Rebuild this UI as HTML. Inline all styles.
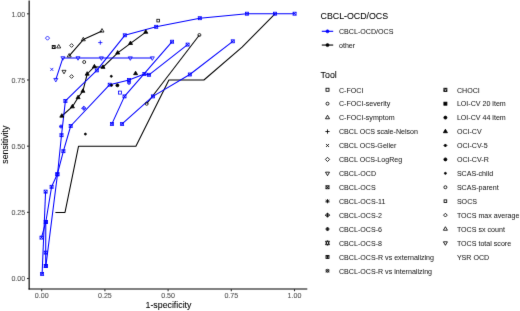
<!DOCTYPE html>
<html><head><meta charset="utf-8"><style>
html,body{margin:0;padding:0;background:#fff;width:520px;height:311px;overflow:hidden}
svg{display:block}
text{font-family:"Liberation Sans",Arial,sans-serif}
.tk{font-size:7.1px;fill:#4d4d4d;stroke:#4d4d4d;stroke-width:0.06px}
.ti{font-size:8.8px;fill:#000;stroke:#000;stroke-width:0.07px}
.lg{font-size:7.1px;fill:#1a1a1a;stroke:#1a1a1a;stroke-width:0.04px}
</style></head><body>
<svg width="520" height="311" viewBox="0 0 520 311">
<defs><filter id="bl" x="-2%" y="-2%" width="104%" height="104%" filterUnits="objectBoundingBox" color-interpolation-filters="sRGB"><feConvolveMatrix order="3" kernelMatrix="0.0052 0.0619 0.0052 0.0619 0.7314 0.0619 0.0052 0.0619 0.0052" edgeMode="none" preserveAlpha="false"/></filter></defs>
<rect width="520" height="311" fill="#fff"/>
<g filter="url(#bl)">
<polyline points="55.4,212.4 65,212.4 78.5,146.3 135.9,146.3 168.9,79.9 203.9,80 242.1,47.2 275,13.9" fill="none" stroke="#000000" stroke-width="1.05" stroke-linejoin="round" stroke-linecap="butt"/>
<polyline points="146.7,103.8 199.4,35" fill="none" stroke="#000000" stroke-width="1.05" stroke-linejoin="round" stroke-linecap="butt"/>
<polyline points="69.2,55.8 83.3,39.6 102,30.9" fill="none" stroke="#000000" stroke-width="1.05" stroke-linejoin="round" stroke-linecap="butt"/>
<polyline points="61.8,116 72.4,106.7 78.1,97.5 82.9,91.1 87.2,74 94.4,66.7 103,67.2 117.7,52.9 130.5,43.3 145.8,32.1" fill="none" stroke="#000000" stroke-width="1.05" stroke-linejoin="round" stroke-linecap="butt"/>
<polyline points="45.9,265.9 57.5,174.3 61.5,135.2 65.4,100.9 96.8,70.4 124.8,35.3 156.2,26.8 199.8,18.2 246.9,13.7 275,13.7 294.6,13.7" fill="none" stroke="#0000FF" stroke-width="1.05" stroke-linejoin="round" stroke-linecap="butt"/>
<polyline points="41.5,237.6 45.8,222 51.6,186.8 57.3,174.3 63.4,151.2 70.7,126 109.7,84.7 129,79.9 144.4,74 149,74.8 187.6,44.6" fill="none" stroke="#0000FF" stroke-width="1.05" stroke-linejoin="round" stroke-linecap="butt"/>
<polyline points="111.9,123.9 124.5,96.4 172.1,41.7" fill="none" stroke="#0000FF" stroke-width="1.05" stroke-linejoin="round" stroke-linecap="butt"/>
<polyline points="122.1,123.9 152.9,96.4 189.8,74.5 232.8,41.3" fill="none" stroke="#0000FF" stroke-width="1.05" stroke-linejoin="round" stroke-linecap="butt"/>
<polyline points="55.8,79.6 62.9,57.9 78,57.9 101.4,58 130.3,58 152.3,58" fill="none" stroke="#0000FF" stroke-width="1.05" stroke-linejoin="round" stroke-linecap="butt"/>
<polyline points="45.7,265.9 45.7,252.6 45.8,222" fill="none" stroke="#0000FF" stroke-width="1.05" stroke-linejoin="round" stroke-linecap="butt"/>
<polyline points="42.1,273.9 45.6,191.6" fill="none" stroke="#0000FF" stroke-width="1.05" stroke-linejoin="round" stroke-linecap="butt"/>
<circle cx="146.7" cy="103.8" r="1.5" stroke="#000000" stroke-width="0.8" fill="none"/>
<circle cx="199.4" cy="35" r="1.5" stroke="#000000" stroke-width="0.8" fill="none"/>
<polygon points="69.2,53.47 71.22,56.97 67.18,56.97" stroke="#000000" stroke-width="0.8" fill="none"/>
<polygon points="83.3,37.27 85.32,40.77 81.28,40.77" stroke="#000000" stroke-width="0.8" fill="none"/>
<polygon points="102,28.57 104.02,32.07 99.98,32.07" stroke="#000000" stroke-width="0.8" fill="none"/>
<polygon points="61.8,113.67 63.82,117.17 59.78,117.17" fill="#000000" stroke="#000000" stroke-width="0.8"/>
<polygon points="72.4,104.37 74.42,107.87 70.38,107.87" fill="#000000" stroke="#000000" stroke-width="0.8"/>
<polygon points="78.1,95.17 80.12,98.67 76.08,98.67" fill="#000000" stroke="#000000" stroke-width="0.8"/>
<polygon points="82.9,88.77 84.92,92.27 80.88,92.27" fill="#000000" stroke="#000000" stroke-width="0.8"/>
<polygon points="87.2,71.67 89.22,75.17 85.18,75.17" fill="#000000" stroke="#000000" stroke-width="0.8"/>
<polygon points="94.4,64.37 96.42,67.87 92.38,67.87" fill="#000000" stroke="#000000" stroke-width="0.8"/>
<polygon points="103,64.87 105.02,68.37 100.98,68.37" fill="#000000" stroke="#000000" stroke-width="0.8"/>
<polygon points="117.7,50.57 119.72,54.07 115.68,54.07" fill="#000000" stroke="#000000" stroke-width="0.8"/>
<polygon points="130.5,40.97 132.52,44.47 128.48,44.47" fill="#000000" stroke="#000000" stroke-width="0.8"/>
<polygon points="145.8,29.77 147.82,33.27 143.78,33.27" fill="#000000" stroke="#000000" stroke-width="0.8"/>
<rect x="44.4" y="264.4" width="3" height="3" stroke="#0000FF" stroke-width="0.8" fill="none"/><line x1="44.4" y1="264.4" x2="47.4" y2="267.4" stroke="#0000FF" stroke-width="0.8" fill="none"/><line x1="44.4" y1="267.4" x2="47.4" y2="264.4" stroke="#0000FF" stroke-width="0.8" fill="none"/>
<rect x="56" y="172.8" width="3" height="3" stroke="#0000FF" stroke-width="0.8" fill="none"/><line x1="56" y1="172.8" x2="59" y2="175.8" stroke="#0000FF" stroke-width="0.8" fill="none"/><line x1="56" y1="175.8" x2="59" y2="172.8" stroke="#0000FF" stroke-width="0.8" fill="none"/>
<rect x="60" y="133.7" width="3" height="3" stroke="#0000FF" stroke-width="0.8" fill="none"/><line x1="60" y1="133.7" x2="63" y2="136.7" stroke="#0000FF" stroke-width="0.8" fill="none"/><line x1="60" y1="136.7" x2="63" y2="133.7" stroke="#0000FF" stroke-width="0.8" fill="none"/>
<rect x="63.9" y="99.4" width="3" height="3" stroke="#0000FF" stroke-width="0.8" fill="none"/><line x1="63.9" y1="99.4" x2="66.9" y2="102.4" stroke="#0000FF" stroke-width="0.8" fill="none"/><line x1="63.9" y1="102.4" x2="66.9" y2="99.4" stroke="#0000FF" stroke-width="0.8" fill="none"/>
<rect x="95.3" y="68.9" width="3" height="3" stroke="#0000FF" stroke-width="0.8" fill="none"/><line x1="95.3" y1="68.9" x2="98.3" y2="71.9" stroke="#0000FF" stroke-width="0.8" fill="none"/><line x1="95.3" y1="71.9" x2="98.3" y2="68.9" stroke="#0000FF" stroke-width="0.8" fill="none"/>
<rect x="123.3" y="33.8" width="3" height="3" stroke="#0000FF" stroke-width="0.8" fill="none"/><line x1="123.3" y1="33.8" x2="126.3" y2="36.8" stroke="#0000FF" stroke-width="0.8" fill="none"/><line x1="123.3" y1="36.8" x2="126.3" y2="33.8" stroke="#0000FF" stroke-width="0.8" fill="none"/>
<rect x="154.7" y="25.3" width="3" height="3" stroke="#0000FF" stroke-width="0.8" fill="none"/><line x1="154.7" y1="25.3" x2="157.7" y2="28.3" stroke="#0000FF" stroke-width="0.8" fill="none"/><line x1="154.7" y1="28.3" x2="157.7" y2="25.3" stroke="#0000FF" stroke-width="0.8" fill="none"/>
<rect x="198.3" y="16.7" width="3" height="3" stroke="#0000FF" stroke-width="0.8" fill="none"/><line x1="198.3" y1="16.7" x2="201.3" y2="19.7" stroke="#0000FF" stroke-width="0.8" fill="none"/><line x1="198.3" y1="19.7" x2="201.3" y2="16.7" stroke="#0000FF" stroke-width="0.8" fill="none"/>
<rect x="245.4" y="12.2" width="3" height="3" stroke="#0000FF" stroke-width="0.8" fill="none"/><line x1="245.4" y1="12.2" x2="248.4" y2="15.2" stroke="#0000FF" stroke-width="0.8" fill="none"/><line x1="245.4" y1="15.2" x2="248.4" y2="12.2" stroke="#0000FF" stroke-width="0.8" fill="none"/>
<rect x="273.5" y="12.2" width="3" height="3" stroke="#0000FF" stroke-width="0.8" fill="none"/><line x1="273.5" y1="12.2" x2="276.5" y2="15.2" stroke="#0000FF" stroke-width="0.8" fill="none"/><line x1="273.5" y1="15.2" x2="276.5" y2="12.2" stroke="#0000FF" stroke-width="0.8" fill="none"/>
<rect x="293.1" y="12.2" width="3" height="3" stroke="#0000FF" stroke-width="0.8" fill="none"/><line x1="293.1" y1="12.2" x2="296.1" y2="15.2" stroke="#0000FF" stroke-width="0.8" fill="none"/><line x1="293.1" y1="15.2" x2="296.1" y2="12.2" stroke="#0000FF" stroke-width="0.8" fill="none"/>
<rect x="40" y="236.1" width="3" height="3" stroke="#0000FF" stroke-width="0.8" fill="none"/><line x1="40" y1="236.1" x2="43" y2="239.1" stroke="#0000FF" stroke-width="0.8" fill="none"/><line x1="40" y1="239.1" x2="43" y2="236.1" stroke="#0000FF" stroke-width="0.8" fill="none"/>
<rect x="44.3" y="220.5" width="3" height="3" stroke="#0000FF" stroke-width="0.8" fill="none"/><line x1="44.3" y1="220.5" x2="47.3" y2="223.5" stroke="#0000FF" stroke-width="0.8" fill="none"/><line x1="44.3" y1="223.5" x2="47.3" y2="220.5" stroke="#0000FF" stroke-width="0.8" fill="none"/>
<rect x="50.1" y="185.3" width="3" height="3" stroke="#0000FF" stroke-width="0.8" fill="none"/><line x1="50.1" y1="185.3" x2="53.1" y2="188.3" stroke="#0000FF" stroke-width="0.8" fill="none"/><line x1="50.1" y1="188.3" x2="53.1" y2="185.3" stroke="#0000FF" stroke-width="0.8" fill="none"/>
<rect x="55.8" y="172.8" width="3" height="3" stroke="#0000FF" stroke-width="0.8" fill="none"/><line x1="55.8" y1="172.8" x2="58.8" y2="175.8" stroke="#0000FF" stroke-width="0.8" fill="none"/><line x1="55.8" y1="175.8" x2="58.8" y2="172.8" stroke="#0000FF" stroke-width="0.8" fill="none"/>
<rect x="61.9" y="149.7" width="3" height="3" stroke="#0000FF" stroke-width="0.8" fill="none"/><line x1="61.9" y1="149.7" x2="64.9" y2="152.7" stroke="#0000FF" stroke-width="0.8" fill="none"/><line x1="61.9" y1="152.7" x2="64.9" y2="149.7" stroke="#0000FF" stroke-width="0.8" fill="none"/>
<rect x="69.2" y="124.5" width="3" height="3" stroke="#0000FF" stroke-width="0.8" fill="none"/><line x1="69.2" y1="124.5" x2="72.2" y2="127.5" stroke="#0000FF" stroke-width="0.8" fill="none"/><line x1="69.2" y1="127.5" x2="72.2" y2="124.5" stroke="#0000FF" stroke-width="0.8" fill="none"/>
<rect x="108.2" y="83.2" width="3" height="3" stroke="#0000FF" stroke-width="0.8" fill="none"/><line x1="108.2" y1="83.2" x2="111.2" y2="86.2" stroke="#0000FF" stroke-width="0.8" fill="none"/><line x1="108.2" y1="86.2" x2="111.2" y2="83.2" stroke="#0000FF" stroke-width="0.8" fill="none"/>
<rect x="127.5" y="78.4" width="3" height="3" stroke="#0000FF" stroke-width="0.8" fill="none"/><line x1="127.5" y1="78.4" x2="130.5" y2="81.4" stroke="#0000FF" stroke-width="0.8" fill="none"/><line x1="127.5" y1="81.4" x2="130.5" y2="78.4" stroke="#0000FF" stroke-width="0.8" fill="none"/>
<rect x="142.9" y="72.5" width="3" height="3" stroke="#0000FF" stroke-width="0.8" fill="none"/><line x1="142.9" y1="72.5" x2="145.9" y2="75.5" stroke="#0000FF" stroke-width="0.8" fill="none"/><line x1="142.9" y1="75.5" x2="145.9" y2="72.5" stroke="#0000FF" stroke-width="0.8" fill="none"/>
<rect x="147.5" y="73.3" width="3" height="3" stroke="#0000FF" stroke-width="0.8" fill="none"/><line x1="147.5" y1="73.3" x2="150.5" y2="76.3" stroke="#0000FF" stroke-width="0.8" fill="none"/><line x1="147.5" y1="76.3" x2="150.5" y2="73.3" stroke="#0000FF" stroke-width="0.8" fill="none"/>
<rect x="186.1" y="43.1" width="3" height="3" stroke="#0000FF" stroke-width="0.8" fill="none"/><line x1="186.1" y1="43.1" x2="189.1" y2="46.1" stroke="#0000FF" stroke-width="0.8" fill="none"/><line x1="186.1" y1="46.1" x2="189.1" y2="43.1" stroke="#0000FF" stroke-width="0.8" fill="none"/>
<rect x="110.4" y="122.4" width="3" height="3" stroke="#0000FF" stroke-width="0.8" fill="none"/><line x1="110.4" y1="122.4" x2="113.4" y2="125.4" stroke="#0000FF" stroke-width="0.8" fill="none"/><line x1="110.4" y1="125.4" x2="113.4" y2="122.4" stroke="#0000FF" stroke-width="0.8" fill="none"/>
<rect x="123" y="94.9" width="3" height="3" stroke="#0000FF" stroke-width="0.8" fill="none"/><line x1="123" y1="94.9" x2="126" y2="97.9" stroke="#0000FF" stroke-width="0.8" fill="none"/><line x1="123" y1="97.9" x2="126" y2="94.9" stroke="#0000FF" stroke-width="0.8" fill="none"/>
<rect x="170.6" y="40.2" width="3" height="3" stroke="#0000FF" stroke-width="0.8" fill="none"/><line x1="170.6" y1="40.2" x2="173.6" y2="43.2" stroke="#0000FF" stroke-width="0.8" fill="none"/><line x1="170.6" y1="43.2" x2="173.6" y2="40.2" stroke="#0000FF" stroke-width="0.8" fill="none"/>
<rect x="120.6" y="122.4" width="3" height="3" stroke="#0000FF" stroke-width="0.8" fill="none"/><line x1="120.6" y1="122.4" x2="123.6" y2="125.4" stroke="#0000FF" stroke-width="0.8" fill="none"/><line x1="120.6" y1="125.4" x2="123.6" y2="122.4" stroke="#0000FF" stroke-width="0.8" fill="none"/>
<rect x="151.4" y="94.9" width="3" height="3" stroke="#0000FF" stroke-width="0.8" fill="none"/><line x1="151.4" y1="94.9" x2="154.4" y2="97.9" stroke="#0000FF" stroke-width="0.8" fill="none"/><line x1="151.4" y1="97.9" x2="154.4" y2="94.9" stroke="#0000FF" stroke-width="0.8" fill="none"/>
<rect x="188.3" y="73" width="3" height="3" stroke="#0000FF" stroke-width="0.8" fill="none"/><line x1="188.3" y1="73" x2="191.3" y2="76" stroke="#0000FF" stroke-width="0.8" fill="none"/><line x1="188.3" y1="76" x2="191.3" y2="73" stroke="#0000FF" stroke-width="0.8" fill="none"/>
<rect x="231.3" y="39.8" width="3" height="3" stroke="#0000FF" stroke-width="0.8" fill="none"/><line x1="231.3" y1="39.8" x2="234.3" y2="42.8" stroke="#0000FF" stroke-width="0.8" fill="none"/><line x1="231.3" y1="42.8" x2="234.3" y2="39.8" stroke="#0000FF" stroke-width="0.8" fill="none"/>
<polygon points="55.8,81.93 57.82,78.43 53.78,78.43" stroke="#0000FF" stroke-width="0.8" fill="none"/>
<polygon points="62.9,60.23 64.92,56.73 60.88,56.73" stroke="#0000FF" stroke-width="0.8" fill="none"/>
<polygon points="78,60.23 80.02,56.73 75.98,56.73" stroke="#0000FF" stroke-width="0.8" fill="none"/>
<polygon points="101.4,60.33 103.42,56.83 99.38,56.83" stroke="#0000FF" stroke-width="0.8" fill="none"/>
<polygon points="130.3,60.33 132.32,56.83 128.28,56.83" stroke="#0000FF" stroke-width="0.8" fill="none"/>
<polygon points="152.3,60.33 154.32,56.83 150.28,56.83" stroke="#0000FF" stroke-width="0.8" fill="none"/>
<rect x="44.2" y="264.4" width="3" height="3" stroke="#0000FF" stroke-width="0.8" fill="none"/><line x1="44.2" y1="264.4" x2="47.2" y2="267.4" stroke="#0000FF" stroke-width="0.8" fill="none"/><line x1="44.2" y1="267.4" x2="47.2" y2="264.4" stroke="#0000FF" stroke-width="0.8" fill="none"/>
<rect x="44.2" y="251.1" width="3" height="3" stroke="#0000FF" stroke-width="0.8" fill="none"/><line x1="44.2" y1="251.1" x2="47.2" y2="254.1" stroke="#0000FF" stroke-width="0.8" fill="none"/><line x1="44.2" y1="254.1" x2="47.2" y2="251.1" stroke="#0000FF" stroke-width="0.8" fill="none"/>
<rect x="44.3" y="220.5" width="3" height="3" stroke="#0000FF" stroke-width="0.8" fill="none"/><line x1="44.3" y1="220.5" x2="47.3" y2="223.5" stroke="#0000FF" stroke-width="0.8" fill="none"/><line x1="44.3" y1="223.5" x2="47.3" y2="220.5" stroke="#0000FF" stroke-width="0.8" fill="none"/>
<rect x="40.6" y="272.4" width="3" height="3" stroke="#0000FF" stroke-width="0.8" fill="none"/><line x1="40.6" y1="272.4" x2="43.6" y2="275.4" stroke="#0000FF" stroke-width="0.8" fill="none"/><line x1="40.6" y1="275.4" x2="43.6" y2="272.4" stroke="#0000FF" stroke-width="0.8" fill="none"/>
<rect x="44.1" y="190.1" width="3" height="3" stroke="#0000FF" stroke-width="0.8" fill="none"/><line x1="44.1" y1="190.1" x2="47.1" y2="193.1" stroke="#0000FF" stroke-width="0.8" fill="none"/><line x1="44.1" y1="193.1" x2="47.1" y2="190.1" stroke="#0000FF" stroke-width="0.8" fill="none"/>
<polygon points="53.7,45.5 55.2,48.5 52.2,48.5" stroke="#000000" stroke-width="0.8" fill="none"/><rect x="52.2" y="45.5" width="3" height="3" stroke="#000000" stroke-width="0.8" fill="none"/>
<polygon points="58.7,44.47 60.72,47.97 56.68,47.97" stroke="#000000" stroke-width="0.8" fill="none"/>
<polygon points="69.72,45.5 71.6,47.38 73.48,45.5 71.6,43.62" stroke="#000000" stroke-width="0.8" fill="none"/>
<circle cx="84.2" cy="62" r="1.5" stroke="#000000" stroke-width="0.8" fill="none"/>
<polygon points="64,73.83 66.02,70.33 61.98,70.33" stroke="#000000" stroke-width="0.8" fill="none"/>
<polygon points="69.72,76.5 71.6,78.38 73.48,76.5 71.6,74.62" stroke="#000000" stroke-width="0.8" fill="none"/>
<circle cx="111.3" cy="76.3" r="1" fill="#000000" stroke="#000000" stroke-width="0.8"/>
<circle cx="117.4" cy="85.3" r="1.5" fill="#000000" stroke="#000000" stroke-width="0.8"/>
<polygon points="135.6,71.17 137.62,74.67 133.58,74.67" fill="#000000" stroke="#000000" stroke-width="0.8"/>
<circle cx="85.4" cy="134.1" r="1" fill="#000000" stroke="#000000" stroke-width="0.8"/>
<rect x="156.87" y="19.27" width="2.66" height="2.66" stroke="#000000" stroke-width="0.8" fill="none"/>
<polygon points="45.38,38.1 47.5,40.22 49.62,38.1 47.5,35.98" stroke="#0000FF" stroke-width="0.8" fill="none"/>
<line x1="81.68" y1="108.2" x2="85.92" y2="108.2" stroke="#0000FF" stroke-width="0.8" fill="none"/><line x1="83.8" y1="106.08" x2="83.8" y2="110.32" stroke="#0000FF" stroke-width="0.8" fill="none"/><polygon points="81.68,108.2 83.8,110.32 85.92,108.2 83.8,106.08" stroke="#0000FF" stroke-width="0.8" fill="none"/>
<circle cx="61" cy="126.5" r="1.5" stroke="#0000FF" stroke-width="0.8" fill="none"/><line x1="59.5" y1="126.5" x2="62.5" y2="126.5" stroke="#0000FF" stroke-width="0.8" fill="none"/><line x1="61" y1="125" x2="61" y2="128" stroke="#0000FF" stroke-width="0.8" fill="none"/>
<circle cx="111.6" cy="85.3" r="1" fill="#000000" stroke="#000000" stroke-width="0.8"/>
<line x1="50.3" y1="67.9" x2="53.3" y2="70.9" stroke="#0000FF" stroke-width="0.8" fill="none"/><line x1="50.3" y1="70.9" x2="53.3" y2="67.9" stroke="#0000FF" stroke-width="0.8" fill="none"/>
<line x1="98.18" y1="42.6" x2="102.42" y2="42.6" stroke="#0000FF" stroke-width="0.8" fill="none"/><line x1="100.3" y1="40.48" x2="100.3" y2="44.72" stroke="#0000FF" stroke-width="0.8" fill="none"/>
<rect x="118.4" y="91.1" width="3" height="3" stroke="#0000FF" stroke-width="0.8" fill="none"/>
<circle cx="129" cy="82.8" r="1.5" stroke="#0000FF" stroke-width="0.8" fill="none"/><line x1="127.5" y1="82.8" x2="130.5" y2="82.8" stroke="#0000FF" stroke-width="0.8" fill="none"/><line x1="129" y1="81.3" x2="129" y2="84.3" stroke="#0000FF" stroke-width="0.8" fill="none"/>
<line x1="29.15" y1="0.6" x2="29.15" y2="289.58" stroke="#000" stroke-width="1.15"/>
<line x1="28.57" y1="289.0" x2="307.3" y2="289.0" stroke="#000" stroke-width="1.15"/>
<text x="41.7" y="298.1" text-anchor="middle" class="tk">0.00</text>
<text x="25.2" y="281.4" text-anchor="end" class="tk">0.00</text>
<text x="104.9" y="298.1" text-anchor="middle" class="tk">0.25</text>
<text x="25.2" y="215.22" text-anchor="end" class="tk">0.25</text>
<text x="168.1" y="298.1" text-anchor="middle" class="tk">0.50</text>
<text x="25.2" y="149.05" text-anchor="end" class="tk">0.50</text>
<text x="231.3" y="298.1" text-anchor="middle" class="tk">0.75</text>
<text x="25.2" y="82.88" text-anchor="end" class="tk">0.75</text>
<text x="294.5" y="298.1" text-anchor="middle" class="tk">1.00</text>
<text x="25.2" y="16.7" text-anchor="end" class="tk">1.00</text>
<line x1="41.7" y1="289.0" x2="41.7" y2="291.2" stroke="#333" stroke-width="1.1"/>
<line x1="29.15" y1="278.5" x2="26.95" y2="278.5" stroke="#333" stroke-width="1.1"/>
<line x1="104.9" y1="289.0" x2="104.9" y2="291.2" stroke="#333" stroke-width="1.1"/>
<line x1="29.15" y1="212.32" x2="26.95" y2="212.32" stroke="#333" stroke-width="1.1"/>
<line x1="168.1" y1="289.0" x2="168.1" y2="291.2" stroke="#333" stroke-width="1.1"/>
<line x1="29.15" y1="146.15" x2="26.95" y2="146.15" stroke="#333" stroke-width="1.1"/>
<line x1="231.3" y1="289.0" x2="231.3" y2="291.2" stroke="#333" stroke-width="1.1"/>
<line x1="29.15" y1="79.98" x2="26.95" y2="79.98" stroke="#333" stroke-width="1.1"/>
<line x1="294.5" y1="289.0" x2="294.5" y2="291.2" stroke="#333" stroke-width="1.1"/>
<line x1="29.15" y1="13.8" x2="26.95" y2="13.8" stroke="#333" stroke-width="1.1"/>
<text x="168.5" y="308.1" text-anchor="middle" class="ti">1-specificity</text>
<text transform="translate(8.3,144.7) rotate(-90)" text-anchor="middle" class="ti">sensitivity</text>
<text x="320.6" y="19.3" class="ti">CBCL-OCD/OCS</text>
<line x1="321.8" y1="31.3" x2="333.2" y2="31.3" stroke="#0000FF" stroke-width="1.1"/>
<circle cx="327.5" cy="31.3" r="1.56" fill="#0000FF" stroke="#0000FF" stroke-width="0.6"/>
<text x="339" y="33.8" class="lg">CBCL-OCD/OCS</text>
<line x1="321.8" y1="45.05" x2="333.2" y2="45.05" stroke="#000000" stroke-width="1.1"/>
<circle cx="327.5" cy="45.05" r="1.56" fill="#000000" stroke="#000000" stroke-width="0.6"/>
<text x="339" y="47.55" class="lg">other</text>
<text x="320.6" y="77.7" class="ti">Tool</text>
<rect x="326" y="88.25" width="3" height="3" stroke="#000" stroke-width="0.85" fill="none"/>
<text x="339.0" y="92.55" class="lg">C-FOCI</text>
<circle cx="327.5" cy="103.68" r="1.5" stroke="#000" stroke-width="0.85" fill="none"/>
<text x="339.0" y="106.48" class="lg">C-FOCI-severity</text>
<polygon points="327.5,115.28 329.52,118.78 325.48,118.78" stroke="#000" stroke-width="0.85" fill="none"/>
<text x="339.0" y="120.41" class="lg">C-FOCI-symptom</text>
<line x1="325.38" y1="131.54" x2="329.62" y2="131.54" stroke="#000" stroke-width="0.85" fill="none"/><line x1="327.5" y1="129.42" x2="327.5" y2="133.66" stroke="#000" stroke-width="0.85" fill="none"/>
<text x="339.0" y="134.34" class="lg">CBCL OCS scale-Nelson</text>
<line x1="326" y1="143.97" x2="329" y2="146.97" stroke="#000" stroke-width="0.85" fill="none"/><line x1="326" y1="146.97" x2="329" y2="143.97" stroke="#000" stroke-width="0.85" fill="none"/>
<text x="339.0" y="148.27" class="lg">CBCL OCS-Geller</text>
<polygon points="325.38,159.4 327.5,161.52 329.62,159.4 327.5,157.28" stroke="#000" stroke-width="0.85" fill="none"/>
<text x="339.0" y="162.2" class="lg">CBCL OCS-LogReg</text>
<polygon points="327.5,175.66 329.52,172.16 325.48,172.16" stroke="#000" stroke-width="0.85" fill="none"/>
<text x="339.0" y="176.13" class="lg">CBCL-OCD</text>
<rect x="326" y="185.76" width="3" height="3" stroke="#000" stroke-width="0.85" fill="none"/><line x1="326" y1="185.76" x2="329" y2="188.76" stroke="#000" stroke-width="0.85" fill="none"/><line x1="326" y1="188.76" x2="329" y2="185.76" stroke="#000" stroke-width="0.85" fill="none"/>
<text x="339.0" y="190.06" class="lg">CBCL-OCS</text>
<line x1="326" y1="199.69" x2="329" y2="202.69" stroke="#000" stroke-width="0.85" fill="none"/><line x1="326" y1="202.69" x2="329" y2="199.69" stroke="#000" stroke-width="0.85" fill="none"/><line x1="325.38" y1="201.19" x2="329.62" y2="201.19" stroke="#000" stroke-width="0.85" fill="none"/><line x1="327.5" y1="199.07" x2="327.5" y2="203.31" stroke="#000" stroke-width="0.85" fill="none"/>
<text x="339.0" y="203.99" class="lg">CBCL-OCS-11</text>
<line x1="325.38" y1="215.12" x2="329.62" y2="215.12" stroke="#000" stroke-width="0.85" fill="none"/><line x1="327.5" y1="213" x2="327.5" y2="217.24" stroke="#000" stroke-width="0.85" fill="none"/><polygon points="325.38,215.12 327.5,217.24 329.62,215.12 327.5,213" stroke="#000" stroke-width="0.85" fill="none"/>
<text x="339.0" y="217.92" class="lg">CBCL-OCS-2</text>
<circle cx="327.5" cy="229.05" r="1.5" stroke="#000" stroke-width="0.85" fill="none"/><line x1="326" y1="229.05" x2="329" y2="229.05" stroke="#000" stroke-width="0.85" fill="none"/><line x1="327.5" y1="227.55" x2="327.5" y2="230.55" stroke="#000" stroke-width="0.85" fill="none"/>
<text x="339.0" y="231.85" class="lg">CBCL-OCS-6</text>
<polygon points="327.5,240.65 329.52,244.73 325.48,244.73" stroke="#000" stroke-width="0.85" fill="none"/><polygon points="327.5,245.31 329.52,241.23 325.48,241.23" stroke="#000" stroke-width="0.85" fill="none"/>
<text x="339.0" y="245.78" class="lg">CBCL-OCS-8</text>
<line x1="326" y1="256.91" x2="329" y2="256.91" stroke="#000" stroke-width="0.85" fill="none"/><line x1="327.5" y1="255.41" x2="327.5" y2="258.41" stroke="#000" stroke-width="0.85" fill="none"/><rect x="326" y="255.41" width="3" height="3" stroke="#000" stroke-width="0.85" fill="none"/>
<text x="339.0" y="259.71" class="lg">CBCL-OCS-R vs externalizing</text>
<circle cx="327.5" cy="270.84" r="1.5" stroke="#000" stroke-width="0.85" fill="none"/><line x1="326" y1="269.34" x2="329" y2="272.34" stroke="#000" stroke-width="0.85" fill="none"/><line x1="326" y1="272.34" x2="329" y2="269.34" stroke="#000" stroke-width="0.85" fill="none"/>
<text x="339.0" y="273.64" class="lg">CBCL-OCS-R vs internalizing</text>
<polygon points="445.4,88.25 446.9,91.25 443.9,91.25" stroke="#000" stroke-width="0.85" fill="none"/><rect x="443.9" y="88.25" width="3" height="3" stroke="#000" stroke-width="0.85" fill="none"/>
<text x="456.9" y="92.55" class="lg">CHOCI</text>
<rect x="443.9" y="102.18" width="3" height="3" fill="#000" stroke="#000" stroke-width="0.85"/>
<text x="456.9" y="106.48" class="lg">LOI-CV 20 item</text>
<circle cx="445.4" cy="117.61" r="1.5" fill="#000" stroke="#000" stroke-width="0.85"/>
<text x="456.9" y="120.41" class="lg">LOI-CV 44 item</text>
<polygon points="445.4,129.21 447.42,132.71 443.38,132.71" fill="#000" stroke="#000" stroke-width="0.85"/>
<text x="456.9" y="134.34" class="lg">OCI-CV</text>
<polygon points="443.9,145.47 445.4,146.97 446.9,145.47 445.4,143.97" fill="#000" stroke="#000" stroke-width="0.85"/>
<text x="456.9" y="148.27" class="lg">OCI-CV-5</text>
<circle cx="445.4" cy="159.4" r="1.5" fill="#000" stroke="#000" stroke-width="0.85"/>
<text x="456.9" y="162.2" class="lg">OCI-CV-R</text>
<circle cx="445.4" cy="173.33" r="1" fill="#000" stroke="#000" stroke-width="0.85"/>
<text x="456.9" y="176.13" class="lg">SCAS-child</text>
<circle cx="445.4" cy="187.26" r="1.5" stroke="#000" stroke-width="0.85" fill="none"/>
<text x="456.9" y="190.06" class="lg">SCAS-parent</text>
<rect x="444.07" y="199.86" width="2.66" height="2.66" stroke="#000" stroke-width="0.85" fill="none"/>
<text x="456.9" y="203.99" class="lg">SOCS</text>
<polygon points="443.52,215.12 445.4,217 447.28,215.12 445.4,213.24" stroke="#000" stroke-width="0.85" fill="none"/>
<text x="456.9" y="217.92" class="lg">TOCS max average</text>
<polygon points="445.4,226.72 447.42,230.22 443.38,230.22" stroke="#000" stroke-width="0.85" fill="none"/>
<text x="456.9" y="231.85" class="lg">TOCS sx count</text>
<polygon points="445.4,245.31 447.42,241.81 443.38,241.81" stroke="#000" stroke-width="0.85" fill="none"/>
<text x="456.9" y="245.78" class="lg">TOCS total score</text>
<text x="456.9" y="259.71" class="lg">YSR OCD</text>
</g>
</svg>
</body></html>
